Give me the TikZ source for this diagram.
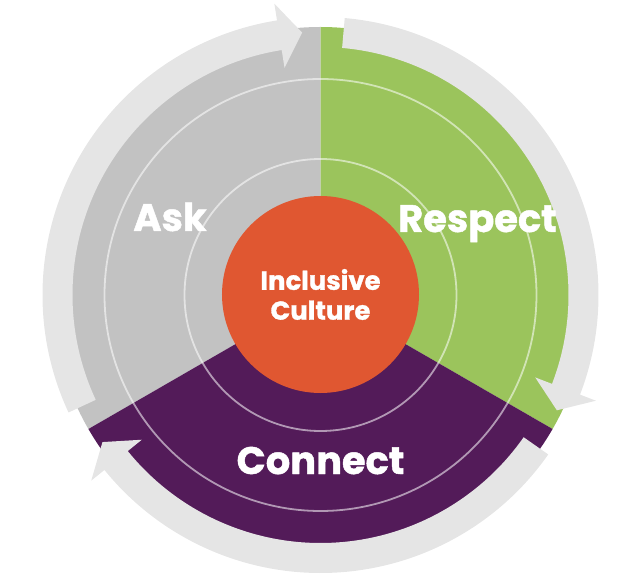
\documentclass[tikz,border=0pt]{standalone}
\usepackage{fontspec}
\setmainfont{Poppins}[BoldFeatures={FakeBold=1.2}]
\definecolor{askgray}{HTML}{C2C2C2}
\definecolor{respectgreen}{HTML}{9BC45C}
\definecolor{connectpurple}{HTML}{531B59}
\definecolor{hubred}{HTML}{E05731}
\definecolor{bandgray}{HTML}{E5E5E5}

\begin{document}
\begin{tikzpicture}[x=1bp, y=1bp,
    band/.style={fill=bandgray},
    ring/.style={draw=white, draw opacity=0.55, line width=1.8bp},
    label/.style={text=white, font=\bfseries\fontsize{38.5}{40}\selectfont,
        inner sep=0pt, anchor=base},
    hub/.style={circle, fill=hubred, minimum size=197bp, inner sep=0pt,
        text=white, align=center, font=\bfseries\fontsize{26}{30}\selectfont}]

    \useasboundingbox (-320.5,-289) rectangle (319.5,295);

    \fill[askgray] (0,0) -- (90:268) arc[start angle=90, end angle=210, radius=268] -- cycle;
    \fill[respectgreen] (0,0) -- (-30:268) arc[start angle=-30, end angle=90, radius=268] -- cycle;
    \fill[connectpurple] (0,0) -- (210:268) arc[start angle=210, end angle=330, radius=268] -- cycle;

    \draw[ring] (0,0) circle[radius=136];
    \draw[ring] (0,0) circle[radius=216];

    \foreach \k [evaluate=\k as \s using 205-120*\k,
                 evaluate=\k as \b using 99-120*\k,
                 evaluate=\k as \t using 94-120*\k] in {0,1,2} {
        \fill[band] (\s:278) arc[start angle=\s, end angle=\b, radius=278]
            -- (\b:295) -- (\t:263) -- (\b:230) -- (\b:248)
            arc[start angle=\b, end angle=\s, radius=248] -- cycle;
    }

    \node[hub] (core) at (0,0.5) {Inclusive\\Culture};
    \node[label] (ask) at (-150.5,64) {Ask};
    \node[label] (respect) at (157,63) {Respect};
    \node[label] (connect) at (0,-179) {Connect};

\end{tikzpicture}
\end{document}
